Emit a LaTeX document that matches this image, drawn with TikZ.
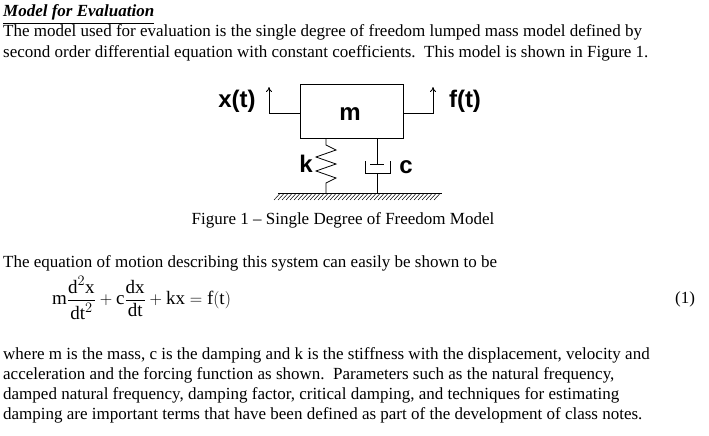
\documentclass[tikz,border=0pt]{standalone}
\usepackage{fontspec}
\usepackage{amsmath}
\setmainfont{Liberation Serif}
\newfontfamily\arial{Liberation Sans}
\usetikzlibrary{arrows.meta}
\begin{document}
\begin{tikzpicture}[x=1pt,y=-1pt,
 txt/.style={anchor=base west,inner sep=0,font=\fontsize{17}{20}\selectfont},
 lbl/.style={inner sep=0,font=\arial\bfseries\fontsize{24}{26}\selectfont},
 ln/.style={line width=0.8pt},
 arr/.style={ln,-{To[length=5pt,width=6pt]}}]
\useasboundingbox (0,0) rectangle (709,436);
\node[txt] (t0) at (3,17) {\textit{\textbf{\underline{Model for Evaluation}}}};
\node[txt] (t1) at (3,37) {The model used for evaluation is the single degree of freedom lumped mass model defined by};
\node[txt] (t2) at (3,57) {second order differential equation with constant coefficients.\ \ This model is shown in Figure 1.};
% figure
\node[draw,ln,minimum width=103,minimum height=54,inner sep=0] (m) at (351.5,111) {};
\node[lbl] (ml) at (350,114) {m};
\coordinate (la) at (269,113);
\coordinate (lt) at (269,87);
\coordinate (ra) at (433,113);
\coordinate (rt) at (433,87);
\draw[arr] (m.west |- la) -- (la) -- (lt);
\draw[arr] (m.east |- ra) -- (ra) -- (rt);
\node[lbl] (xl) at (237,101) {x(t)};
\node[lbl] (fl) at (465,101) {f(t)};
% spring
\coordinate (s0) at (326,138);
\coordinate (s1) at (326,193);
\draw[ln] (s0) -- (326,145) -- (336,150) -- (316,157) -- (336,164) -- (316,171) -- (336,178) -- (326,183) -- (s1);
\node[lbl] (kl) at (306,164) {k};
% damper
\coordinate (d0) at (377,138);
\coordinate (d1) at (377,193);
\draw[ln] (d0) -- (377,164);
\draw[ln] (370,164) -- (384,164);
\draw[ln] (365,161) -- (365,173) -- (390,173) -- (390,161);
\draw[ln] (377,173) -- (d1);
\node[lbl] (cl) at (406,167) {c};
% ground
\coordinate (g0) at (278,193);
\coordinate (g1) at (442,193);
\draw[ln] (g0) -- (g1);
\foreach \i in {0,...,40} \draw[line width=0.5pt] (280+\i*4,193.5) -- (274+\i*4,200);
\node[txt,anchor=base] (cap) at (343,224) {Figure 1 -- Single Degree of Freedom Model};
\node[txt] (t3) at (3,267) {The equation of motion describing this system can easily be shown to be};
\node[txt,anchor=west,font=\fontsize{19}{22}\selectfont] (eq) at (52,298) {$\text{m}\dfrac{\text{d}^2\text{x}}{\text{dt}^2}+\text{c}\dfrac{\text{dx}}{\text{dt}}+\text{kx}=\text{f}(\text{t})$};
\node[txt] (en) at (675,303) {(1)};
\node[txt] (t4) at (3,359) {where m is the mass, c is the damping and k is the stiffness with the displacement, velocity and};
\node[txt] (t5) at (3,379) {acceleration and the forcing function as shown.\ \ Parameters such as the natural frequency,};
\node[txt] (t6) at (3,399) {damped natural frequency, damping factor, critical damping, and techniques for estimating};
\node[txt] (t7) at (3,419) {damping are important terms that have been defined as part of the development of class notes.};
\end{tikzpicture}
\end{document}
